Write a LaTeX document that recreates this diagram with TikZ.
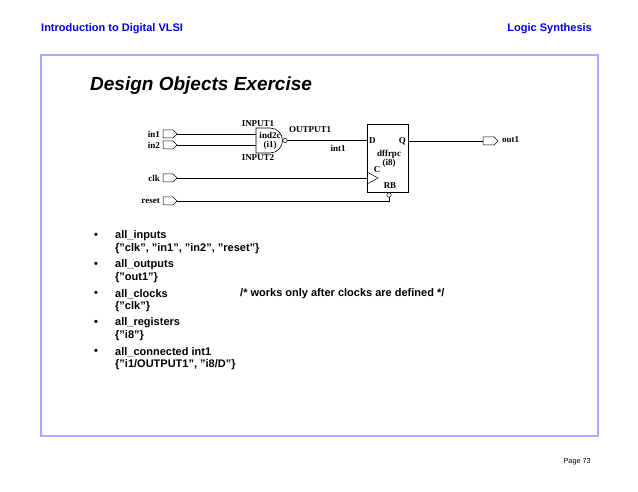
\documentclass[tikz,border=0pt]{standalone}
\usepackage{fontspec}
\setmainfont{Liberation Sans}
\newfontfamily\schem{Liberation Serif}
\begin{document}
\begin{tikzpicture}[x=1pt,y=-1pt,
  hdr/.style={font=\bfseries\fontsize{11}{12}\selectfont,text=blue!90!black,inner sep=0pt},
  sl/.style={font=\schem\bfseries\fontsize{9}{10}\selectfont,inner sep=0pt},
  bl/.style={font=\bfseries\fontsize{11}{12}\selectfont,inner sep=0pt,anchor=west},
  pin/.style={draw,line width=0.5pt},
  wire/.style={line width=0.5pt}]
\useasboundingbox (0,0) rectangle (638,492);
\node[hdr,anchor=west] (h1) at (41,29) {Introduction to Digital VLSI};
\node[hdr,anchor=east] (h2) at (592,29) {Logic Synthesis};
\draw[line width=2.5pt,color={rgb,255:red,170;green,170;blue,250}] (41,55) rectangle (598,436);
\node[anchor=west,inner sep=0pt,font=\bfseries\itshape\fontsize{19}{21}\selectfont] (title) at (90,86) {Design Objects Exercise};
\node[anchor=east,inner sep=0pt,font=\fontsize{7.3}{8}\selectfont] (pg) at (591,462) {Page 73};
% input pins
\foreach \n/\y in {in1/134,in2/145,clk/178,reset/201}{
  \draw[pin] (163,\y-4) -- (173,\y-4) -- (177,\y) -- (173,\y+4) -- (163,\y+4) -- cycle;
  \coordinate (p\n) at (177,\y);
  \node[sl,anchor=east] (l\n) at (160,\y) {\n};
}
% nand gate
\draw[line width=0.6pt] (256,128) -- (270,128) arc (-90:90:12.5) -- (256,153) -- cycle;
\draw[line width=0.5pt] (285,140.5) circle (2.2);
\coordinate (gin1) at (256,134); \coordinate (gin2) at (256,145);
\coordinate (gout) at (287.2,140.5);
\node[sl] (g1) at (270,135) {ind2c};
\node[sl] (g2) at (270,145) {(i1)};
\node[sl] (i1l) at (258,124) {INPUT1};
\node[sl] (i2l) at (258,158) {INPUT2};
\node[sl] (ol) at (310,130) {OUTPUT1};
% flip-flop
\draw[line width=0.6pt] (367,124) rectangle (408,192);
\draw[line width=0.5pt] (367,172) -- (378,178) -- (367,184);
\draw[line width=0.5pt] (389,195) circle (2.2);
\node[sl,anchor=west] (dl) at (369,141) {D};
\node[sl,anchor=east] (ql) at (406,141) {Q};
\node[sl] (ff1) at (389,154) {dffrpc};
\node[sl] (ff2) at (389,163) {(i8)};
\node[sl] (cl) at (377,170) {C};
\node[sl] (rbl) at (390,186) {RB};
\node[sl] (int1) at (338,148) {int1};
\coordinate (dpin) at (367,141); \coordinate (qpin) at (408,141);
\coordinate (cpin) at (367,178); \coordinate (rbpin) at (389,197.2);
% output pin
\draw[pin] (483,137) -- (494,137) -- (498,141) -- (494,145) -- (483,145) -- cycle;
\coordinate (pout) at (483,141);
\node[sl,anchor=west] (lout) at (502,140) {out1};
% wires
\draw[wire] (pin1) -- (gin1);
\draw[wire] (pin2) -- (gin2);
\draw[wire] (gout) -- (gout -| dpin);
\draw[wire] (qpin) -- (pout);
\draw[wire] (pclk) -- (cpin);
\draw[wire] (preset) -| (rbpin);
% bullets
\foreach \y in {236,265,294,323,352}{\node[bl] at (94,\y) {•};}
\node[bl] (b1) at (115,236) {all\_inputs};
\node[bl] (b1s) at (115,249) {\{"clk", "in1", "in2", "reset"\}};
\node[bl] (b2) at (115,265) {all\_outputs};
\node[bl] (b2s) at (115,278) {\{"out1"\}};
\node[bl] (b3) at (115,294) {all\_clocks};
\node[bl] (b3s) at (115,307) {\{"clk"\}};
\node[bl] (b4) at (115,323) {all\_registers};
\node[bl] (b4s) at (115,336) {\{"i8"\}};
\node[bl] (b5) at (115,352) {all\_connected int1};
\node[bl] (b5s) at (115,365) {\{"i1/OUTPUT1", "i8/D"\}};
\node[bl] (cm) at (240,294) {/* works only after clocks are defined */};
\end{tikzpicture}
\end{document}
